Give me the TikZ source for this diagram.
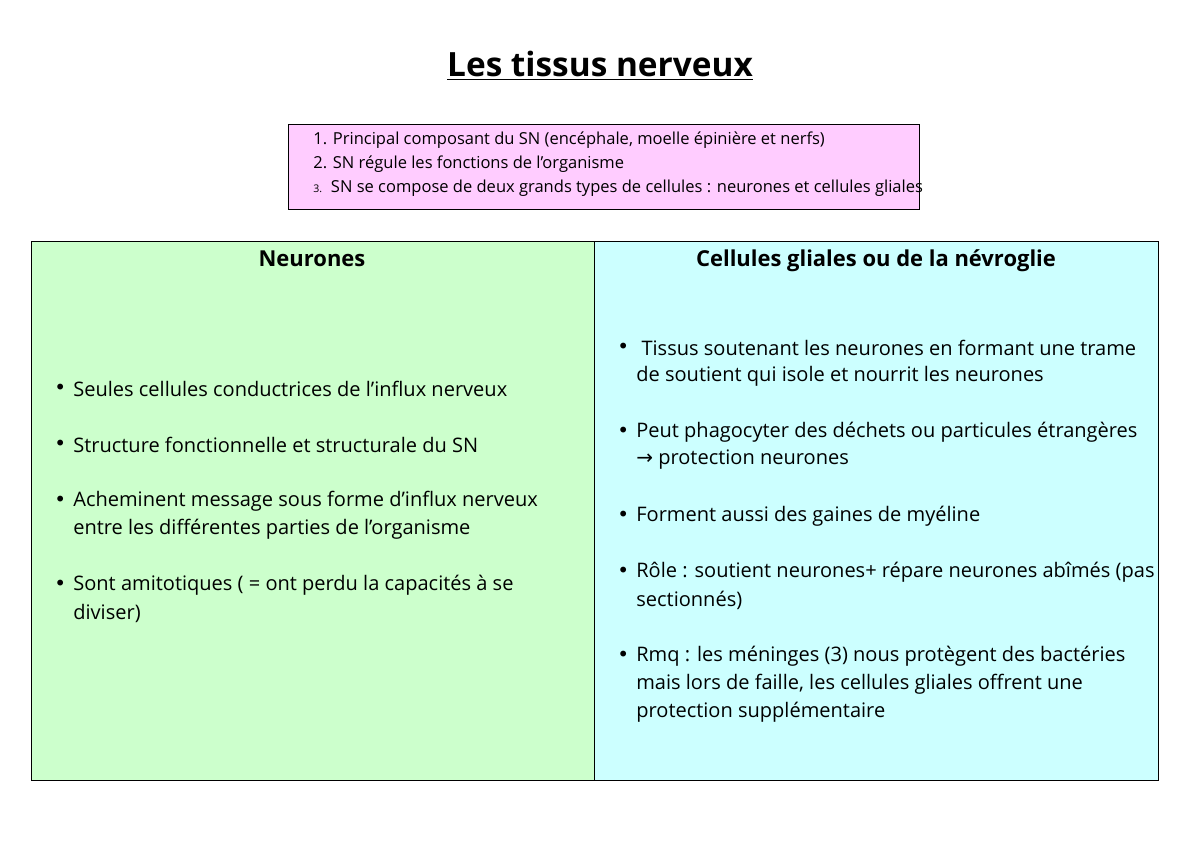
\documentclass[tikz,border=0pt]{standalone}
\usepackage{fontspec}
\setmainfont{Open Sans}
\newfontfamily\symfont{DejaVu Sans}
\begin{document}
\begin{tikzpicture}[x=0.02cm,y=-0.02cm,
  body/.style={anchor=west,inner sep=0,font=\fontsize{11.4}{13}\selectfont},
  small/.style={anchor=west,inner sep=0,font=\fontsize{9.4}{11}\selectfont},
  head/.style={anchor=center,inner sep=0,font=\fontsize{12.5}{15}\selectfont\bfseries}]
\useasboundingbox (0,0) rectangle (1200,848);
\definecolor{pinkb}{HTML}{FFCCFF}
\definecolor{greenb}{HTML}{CCFFCC}
\definecolor{cyanb}{HTML}{CCFFFF}
\node[inner sep=0,font=\fontsize{19}{22}\selectfont\bfseries] (title) at (600,66) {\underline{Les tissus nerveux}};
\draw[fill=pinkb] (288,124) rectangle (919,209);
\node[small] (p1) at (313,140) {1. Principal composant du SN (encéphale, moelle épinière et nerfs)};
\node[small] (p2) at (313,164) {2. SN régule les fonctions de l’organisme};
\node[small] (p3) at (313,188) {{\fontsize{6}{7}\selectfont 3.}\hspace{5pt}SN se compose de deux grands types de cellules : neurones et cellules gliales};
\draw[fill=greenb] (31,241) rectangle (594,780);
\draw[fill=cyanb] (594,241) rectangle (1158,780);
\node[head] (h1) at (312,261) {\vphantom{Cg}Neurones};
\node[head] (h2) at (876,261) {\vphantom{Cg}Cellules gliales ou de la névroglie};
\foreach \y/\t in {389/{Seules cellules conductrices de l’influx nerveux},445/{Structure fonctionnelle et structurale du SN},501/{Acheminent message sous forme d’influx nerveux},585/{Sont amitotiques ( = ont perdu la capacités à se}}
  {\node[body] at (54,\y) {\symfont •}; \node[body] at (73,\y) {\t};}
\node[body] (l1) at (73,529) {entre les différentes parties de l’organisme};
\node[body] (l2) at (73,613) {diviser)};
\foreach \y/\t in {348/{\ Tissus soutenant les neurones en formant une trame},432/{Peut phagocyter des déchets ou particules étrangères},516/{Forment aussi des gaines de myéline},572/{Rôle : soutient neurones+ répare neurones abîmés (pas},656/{Rmq : les méninges (3) nous protègent des bactéries}}
  {\node[body] at (617,\y) {\symfont •}; \node[body] at (636,\y) {\t};}
\node[body] (r1) at (636,376) {de soutient qui isole et nourrit les neurones};
\node[body] (r2) at (636,460) {{\symfont →} protection neurones};
\node[body] (r3) at (636,600) {sectionnés)};
\node[body] (r4) at (636,684) {mais lors de faille, les cellules gliales offrent une};
\node[body] (r5) at (636,712) {protection supplémentaire};
\end{tikzpicture}
\end{document}
